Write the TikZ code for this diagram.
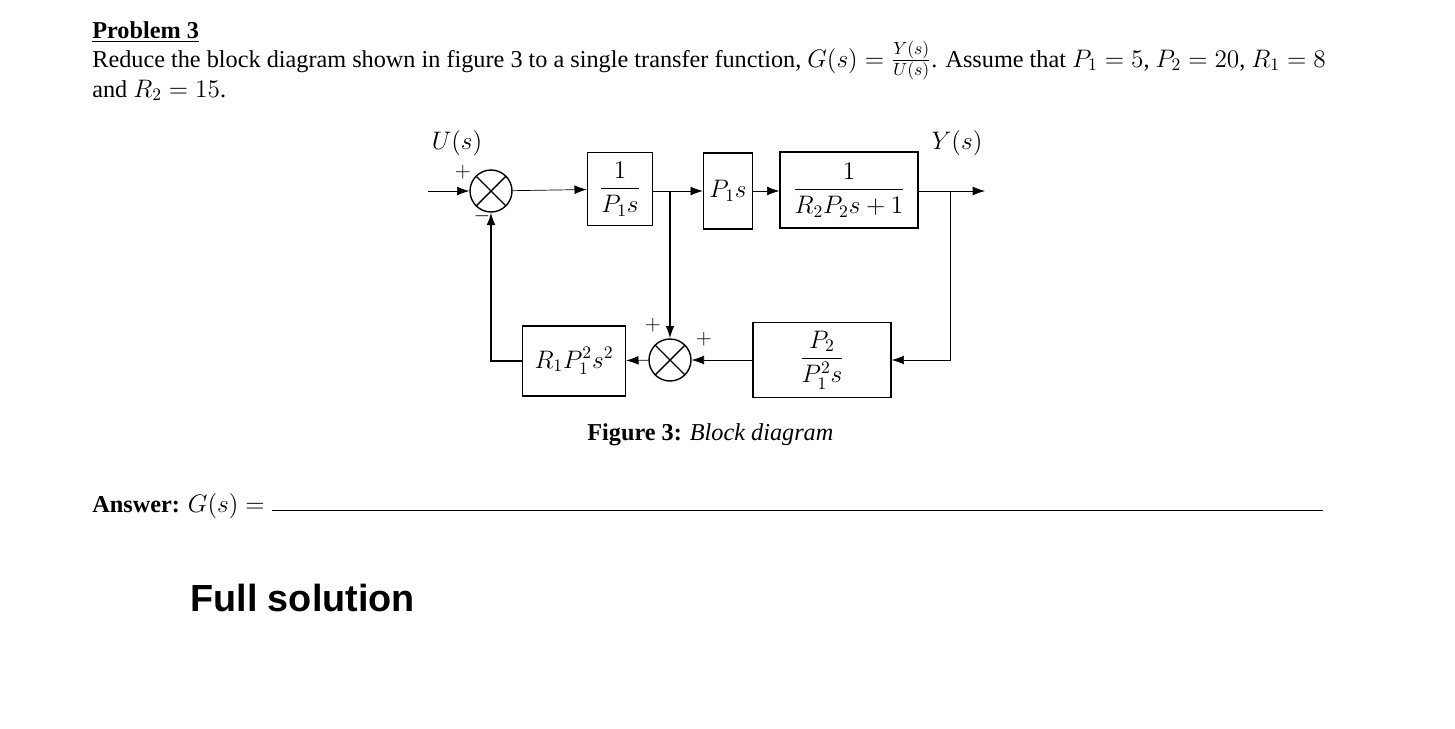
\documentclass[tikz,border=0pt]{standalone}
\usepackage{amsmath}
\usepackage{fontspec}
\setmainfont{Liberation Serif}
\newfontfamily\headsans{Liberation Sans}
\usetikzlibrary{positioning,arrows.meta}
\tikzset{
  block/.style={draw,thick,minimum height=1.45cm,inner sep=1pt,font=\Large},
  summer/.style={draw,thick,circle,minimum size=0.84cm,inner sep=0pt,path picture={
      \draw (path picture bounding box.north west) -- (path picture bounding box.south east)
            (path picture bounding box.north east) -- (path picture bounding box.south west);}},
  sig/.style={-{Latex[length=7pt,width=5pt]}},
  txt/.style={anchor=base west,inner sep=0pt,font=\fontsize{13.8pt}{16pt}\selectfont}
}
\begin{document}
\begin{tikzpicture}[x=0.02cm,y=-0.02cm]
  \useasboundingbox (0,0) rectangle (1455,728);
  % heading and task
  \node[txt] (head) at (92,38) {\textbf{\underline{Problem 3}}};
  \node[txt] (task) at (92,67) {Reduce the block diagram shown in figure 3 to a single transfer function, $G(s)=\frac{Y(s)}{U(s)}$. Assume that $P_1=5$, $P_2=20$, $R_1=8$};
  \node[txt] (task2) at (92,97) {and $R_2=15$.};
  % blocks
  \node[summer] (s1) at (491,191) {};
  \node[block,minimum width=1.3cm] (g1) at (620,189) {$\dfrac{1}{P_1 s}$};
  \node[block,minimum width=0.98cm,minimum height=1.52cm] (g2) at (728,191) {$P_1 s$};
  \node[block,minimum width=2.76cm,minimum height=1.52cm] (g3) at (849,190) {$\dfrac{1}{R_2P_2 s+1}$};
  \node[summer] (s2) at (670,360) {};
  \node[block,minimum width=2.06cm,minimum height=1.4cm] (h1) at (574,361) {$R_1P_1^2s^2$};
  \node[block,minimum width=2.76cm,minimum height=1.5cm] (h2) at (822,360) {$\dfrac{P_2}{P_1^2 s}$};
  \coordinate (in) at (428,191);
  \coordinate (out) at (985,191);
  \coordinate (yb) at (950,191);
  \coordinate (xb) at (670,191);
  \node (u) at (457,143) {\Large$U(s)$};
  \node (y) at (957,143) {\Large$Y(s)$};
  \node (p1) at (463,172) {\large$+$};
  \node (m1) at (482,216) {\large$-$};
  \node (p2) at (653,325) {\large$+$};
  \node (p3) at (704,339) {\large$+$};
  % connectors
  \draw[sig] (in) -- (s1);
  \draw[sig] (s1) -- (g1);
  \draw[sig] (g1.east |- s1) -- (g2.west |- s1);
  \draw[sig] (g2.east |- s1) -- (g3.west |- s1);
  \draw[sig] (g3.east |- s1) -- (out);
  \draw[sig,thick] (xb) -- (s2);
  \draw[sig] (yb) |- (h2);
  \draw[sig] (h2) -- (s2);
  \draw[sig] (s2) -- (h1);
  \draw[sig,thick] (h1.west) -| (s1);
  % caption and answer
  \node[txt] (cap) at (587,440) {\textbf{Figure 3:} \textit{Block diagram}};
  \node[txt] (ans) at (92,512) {\textbf{Answer:} $G(s)=$};
  \coordinate (l1) at (272,510);
  \coordinate (l2) at (1323,510);
  \draw (l1) -- (l2);
  \node[anchor=base west,inner sep=0pt,font=\headsans\bfseries\fontsize{21.5pt}{26pt}\selectfont] (full) at (190,611) {Full solution};
\end{tikzpicture}
\end{document}
